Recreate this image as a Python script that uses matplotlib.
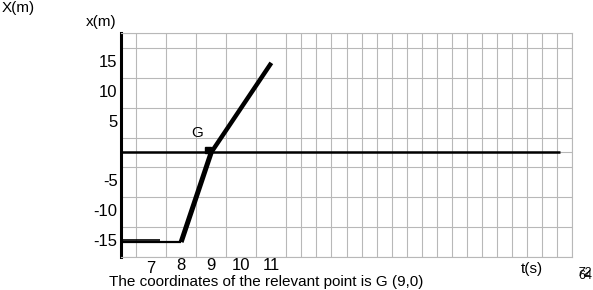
import matplotlib
matplotlib.use("Agg")
import matplotlib.pyplot as plt
import numpy as np
from matplotlib.transforms import ScaledTranslation

plt.rcParams['font.family'] = ['Liberation Sans', 'DejaVu Sans']

# data
t_flat = [6, 8]
x_flat = [-15, -15]
t_flat2 = [6, 7.3]
x_flat2 = [-14.6, -14.6]
t_rise1 = [8, 9]
x_rise1 = [-15, 0]
t_rise2 = [9, 11]
x_rise2 = [0, 15]
t_zero = [6, 20.6]
x_zero = [0, 0]
G_point = (8.9, 0.4)
G_label_pos = (8.53, 3.2)
xtick_vals = [7, 8, 9, 10, 11]
xtick_labels = ['7', '8', '9', '10', '11']
ytick_vals = [-15, -10, -5, 5, 10, 15]
ytick_labels = ['-15', '-10', '-5', '5', '10', '15']
caption = "The coordinates of the relevant point is G (9,0)"

fig = plt.figure(figsize=(5.93, 2.90), dpi=100)
ax = fig.add_axes([121/593, 33/290, (572-121)/593, (257-33)/290])
ax.set_xlim(6, 21)
ax.set_ylim(-17.5, 20)

grid_c = '#b8b8b8'
ax.set_xticks(np.arange(6, 21.01, 0.5), minor=True)
ax.set_yticks(np.arange(-17.5, 20.01, 2.5), minor=True)
ax.grid(which='minor', color=grid_c, lw=0.8)
ax.set_axisbelow(True)

ax.set_xticks(xtick_vals)
ax.set_xticklabels(xtick_labels)
ax.set_yticks(ytick_vals)
ax.set_yticklabels(ytick_labels)
ax.tick_params(which='both', length=0)
ax.tick_params(axis='x', pad=1.0, labelsize=12)
ax.tick_params(axis='y', pad=2.5, labelsize=12)
lbl7 = ax.get_xticklabels()[0]
lbl7.set_transform(lbl7.get_transform() + ScaledTranslation(0, -3/100, fig.dpi_scale_trans))
for lbl in ax.get_yticklabels():
    lbl.set_transform(lbl.get_transform() + ScaledTranslation(0, 2/100, fig.dpi_scale_trans))

for s in ['top', 'right', 'bottom']:
    ax.spines[s].set_color(grid_c)
    ax.spines[s].set_linewidth(0.8)
ax.spines['left'].set_color('black')
ax.spines['left'].set_linewidth(2.2)

ax.plot(t_zero, x_zero, color='black', lw=1.8, solid_capstyle='butt')
ax.plot(t_flat, x_flat, color='black', lw=1.6, solid_capstyle='butt')
ax.plot(t_flat2, x_flat2, color='black', lw=1.2, solid_capstyle='butt')
ax.plot(t_rise1, x_rise1, color='black', lw=3.6, solid_capstyle='butt')
ax.plot(t_rise2, x_rise2, color='black', lw=3.2, solid_capstyle='butt')
ax.plot([G_point[0]], [G_point[1]], marker='s', color='black', ms=5)
ax.text(G_label_pos[0], G_label_pos[1], 'G', ha='center', va='center', fontsize=11)

fig.text(18/593, 1 - 8/290, 'X(m)', ha='center', va='center', fontsize=11)
fig.text(101/593, 1 - 22/290, 'x(m)', ha='center', va='center', fontsize=11)
fig.text(532/593, 1 - 269/290, 't(s)', ha='center', va='center', fontsize=11)
fig.text(266/593, 1 - 282/290, caption, ha='center', va='center', fontsize=11)
fig.text(585/593, 1 - 273/290, '72', ha='center', va='center', fontsize=9, style='italic')
fig.text(585/593, 1 - 276/290, '64', ha='center', va='center', fontsize=9)

fig.savefig('out.png', dpi=100)
